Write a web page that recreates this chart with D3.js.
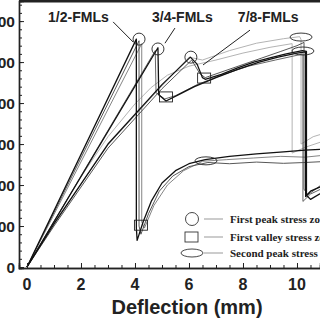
<!DOCTYPE html>
<html>
<head>
<meta charset="utf-8">
<script src="https://cdn.jsdelivr.net/npm/d3@7/dist/d3.min.js"></script>
<style>
  body { margin: 0; background: #fff; }
  svg { display: block; }
</style>
</head>
<body>
<svg id="chart" width="320" height="320"></svg>
<script>
// deflection (mm) vs stress
const xTicks = [0, 2, 4, 6, 8, 10]
const yTicks = [0, 100, 200, 300, 400, 500, 600]
const yTickLabels = ["0", "100", "200", "300", "400", "500", "600"]

// 1/2-FMLs specimens
const half1 = [[0,0],[4.05,556],[4.05,95],[4.08,65],[4.3,110],[4.6,160],[5.0,205],[5.5,235],[6.0,252],[6.6,262],[7.5,270],[8.5,276],[9.5,281],[10.3,285],[11.2,288]]
const half2 = [[0,0],[4.15,552],[4.15,100],[4.22,80],[4.5,130],[4.9,185],[5.4,222],[6.0,245],[6.7,255],[7.5,252],[8.5,256],[9.5,253],[10.3,255],[11.2,258]]
const half3 = [[0,0],[4.25,545],[4.25,110],[4.35,95],[4.7,150],[5.2,200],[5.8,235],[6.5,258],[7.4,262],[8.4,266],[9.4,270],[10.3,268],[11.2,274]]

// 3/4-FMLs specimens
const threeQ1 = [[0,0],[4.85,535],[4.88,420],[5.15,405],[5.6,420],[6.2,440],[7.0,462],[7.8,482],[8.6,500],[9.3,512],[10.0,522],[10.32,525],[10.32,172],[10.5,185],[11.2,205]]
const threeQ2 = [[0,0],[4.75,528],[4.78,425],[5.1,410],[5.5,418],[6.3,445],[7.2,468],[8.2,490],[9.2,505],[10.1,518],[10.22,520],[10.22,160],[10.5,178],[11.2,200]]
const threeQ3 = [[0,0],[1,112],[2,220],[3,318],[4,398],[4.6,438],[5.2,468],[6,490],[7,505],[8,522],[9,536],[9.82,545],[9.82,278],[10.3,292],[11.2,312]]

// 7/8-FMLs specimens
const sevenE1 = [[0,0],[1,105],[3,300],[5,445],[6.05,512],[6.3,495],[6.5,462],[6.6,458],[7.2,470],[7.8,486],[8.4,500],[9.0,510],[9.6,520],[10.2,528],[10.35,526],[10.35,175],[10.5,165],[11.2,192]]
const sevenE2 = [[0,0],[1,100],[3,290],[5,435],[6.1,505],[6.4,472],[6.6,462],[7.3,478],[8.0,494],[8.7,510],[9.4,526],[10.0,540],[10.26,548],[10.26,190],[10.4,176],[11.2,215]]
const sevenE3 = [[0,0],[1,108],[3,298],[5,442],[6.0,512],[6.5,505],[7.5,528],[8.5,546],[9.5,557],[10.1,562],[10.15,555],[10.15,300],[10.6,318],[11.2,330]]

const seriesList = [threeQ3, sevenE3, half3, half2, threeQ2, sevenE2, half1, threeQ1, sevenE1]
const seriesColors = ["#aaa", "#aaa", "#777", "#444", "#555", "#444", "#111", "#111", "#111"]

// zone markers
const peakZones = [[4.15,556],[4.85,532],[6.07,512]]
const valleyZones = [[4.22,102],[5.15,415],[6.56,461]]
const secondPeakZones = [[6.63,259],[10.15,561],[10.22,527]]

// group labels: text start, leader from, leader to
const groupNames = ["1/2-FMLs", "3/4-FMLs", "7/8-FMLs"]
const groupLabelAt = [[0.78,598],[4.63,598],[7.81,598]]
const leaderFrom = [[3.19,598],[5.48,583],[8.26,578]]
const leaderTo = [[3.93,549],[5.11,546],[6.52,493]]

const legendNames = ["First peak stress zone", "First valley stress zone", "Second peak stress zone"]

const svg = d3.select("#chart")
const x = d3.scaleLinear().domain([-0.296, 10.852]).range([19, 320])
const y = d3.scaleLinear().domain([-2.4, 649]).range([268, 1])

// curves
const line = d3.line().x(d => x(d[0])).y(d => y(d[1]))
svg.append("g").attr("clip-path", null)
  .selectAll("path.curve")
  .data(seriesList)
  .join("path")
  .classed("curve", true)
  .attr("d", line)
  .attr("fill", "none")
  .attr("stroke", (d, i) => seriesColors[i])
  .attr("stroke-width", (d, i) => seriesColors[i] == "#111" ? 1.3 : 0.9)
  .attr("stroke-linejoin", "round")

// markers
const marks = svg.append("g").attr("fill", "none").attr("stroke", "#222").attr("stroke-width", 0.9)
marks.selectAll("circle.peak").data(peakZones).join("circle")
  .classed("peak", true)
  .attr("cx", d => x(d[0])).attr("cy", d => y(d[1])).attr("r", 6)
marks.selectAll("rect.valley").data(valleyZones).join("rect")
  .classed("valley", true)
  .attr("x", d => x(d[0]) - 6.5).attr("y", d => y(d[1]) - 5)
  .attr("width", 13).attr("height", 10)
marks.selectAll("ellipse.second").data(secondPeakZones).join("ellipse")
  .classed("second", true)
  .attr("cx", d => x(d[0])).attr("cy", d => y(d[1])).attr("rx", 11).attr("ry", 4)

// group labels
svg.selectAll("line.leader").data(leaderFrom).join("line")
  .classed("leader", true)
  .attr("x1", d => x(d[0])).attr("y1", d => y(d[1]))
  .attr("x2", (d, i) => x(leaderTo[i][0])).attr("y2", (d, i) => y(leaderTo[i][1]))
  .attr("stroke", "#222").attr("stroke-width", 1)
svg.selectAll("text.group").data(groupNames).join("text")
  .classed("group", true)
  .attr("x", (d, i) => x(groupLabelAt[i][0]))
  .attr("y", (d, i) => y(groupLabelAt[i][1]))
  .attr("font-family", "Liberation Sans, Arial, sans-serif")
  .attr("font-weight", "bold").attr("font-size", 14).attr("fill", "#222")
  .text(d => d)

// legend
const legend = svg.append("g")
const legendY = [219, 237, 253]
legend.append("circle").attr("cx", 192).attr("cy", legendY[0]).attr("r", 6.5)
  .attr("fill", "none").attr("stroke", "#333").attr("stroke-width", 0.9)
legend.append("rect").attr("x", 185).attr("y", legendY[1] - 5).attr("width", 13).attr("height", 10)
  .attr("fill", "none").attr("stroke", "#333").attr("stroke-width", 0.9)
legend.append("ellipse").attr("cx", 192).attr("cy", legendY[2]).attr("rx", 11).attr("ry", 4)
  .attr("fill", "none").attr("stroke", "#333").attr("stroke-width", 0.9)
legend.selectAll("line").data(legendNames).join("line")
  .attr("x1", 204).attr("x2", 223)
  .attr("y1", (d, i) => legendY[i]).attr("y2", (d, i) => legendY[i])
  .attr("stroke", "#999").attr("stroke-width", 1)
legend.selectAll("text").data(legendNames).join("text")
  .attr("x", 230).attr("y", (d, i) => legendY[i] + 4)
  .attr("font-family", "Liberation Serif, Times New Roman, serif")
  .attr("font-weight", "bold").attr("font-size", 11).attr("fill", "#222")
  .text(d => d)

// axes
const xMinor = d3.range(0, 11, 0.5)
const yMinor = d3.range(0, 650, 20)
const axisFont = "Liberation Sans, Arial, sans-serif"

const gx = svg.append("g").attr("transform", "translate(0,268)")
gx.call(d3.axisBottom(x).tickValues(xMinor).tickSize(-3).tickFormat(""))
gx.append("g").call(d3.axisBottom(x).tickValues(xTicks).tickSize(-5).tickFormat(""))
gx.selectAll("path.domain").attr("stroke", "#222").attr("stroke-width", 1.4)
gx.selectAll(".tick line").attr("stroke", "#222").attr("stroke-width", 1)
gx.selectAll("text.xlab").data(xTicks).join("text")
  .classed("xlab", true)
  .attr("x", d => x(d)).attr("y", 22)
  .attr("text-anchor", "middle")
  .attr("font-family", axisFont).attr("font-weight", "bold").attr("font-size", 16).attr("fill", "#222")
  .text(d => d)

const gy = svg.append("g").attr("transform", "translate(19,0)")
gy.call(d3.axisLeft(y).tickValues(yMinor).tickSize(-3).tickFormat(""))
gy.append("g").call(d3.axisLeft(y).tickValues(yTicks).tickSize(-5).tickFormat(""))
gy.selectAll("path.domain").attr("stroke", "#222").attr("stroke-width", 1.4)
gy.selectAll(".tick line").attr("stroke", "#222").attr("stroke-width", 1)
gy.selectAll("text.ylab").data(yTicks).join("text")
  .classed("ylab", true)
  .attr("x", -4).attr("y", d => y(d) + 5.5)
  .attr("text-anchor", "end")
  .attr("font-family", axisFont).attr("font-weight", "bold").attr("font-size", 15.5).attr("fill", "#222")
  .text((d, i) => yTickLabels[i])

// top frame
svg.append("line").attr("x1", 19).attr("x2", 320).attr("y1", 1).attr("y2", 1)
  .attr("stroke", "#222").attr("stroke-width", 3)

svg.append("text")
  .attr("x", 187).attr("y", 314)
  .attr("text-anchor", "middle")
  .attr("font-family", axisFont).attr("font-weight", "bold").attr("font-size", 20).attr("fill", "#222")
  .text("Deflection (mm)")
</script>
</body>
</html>
